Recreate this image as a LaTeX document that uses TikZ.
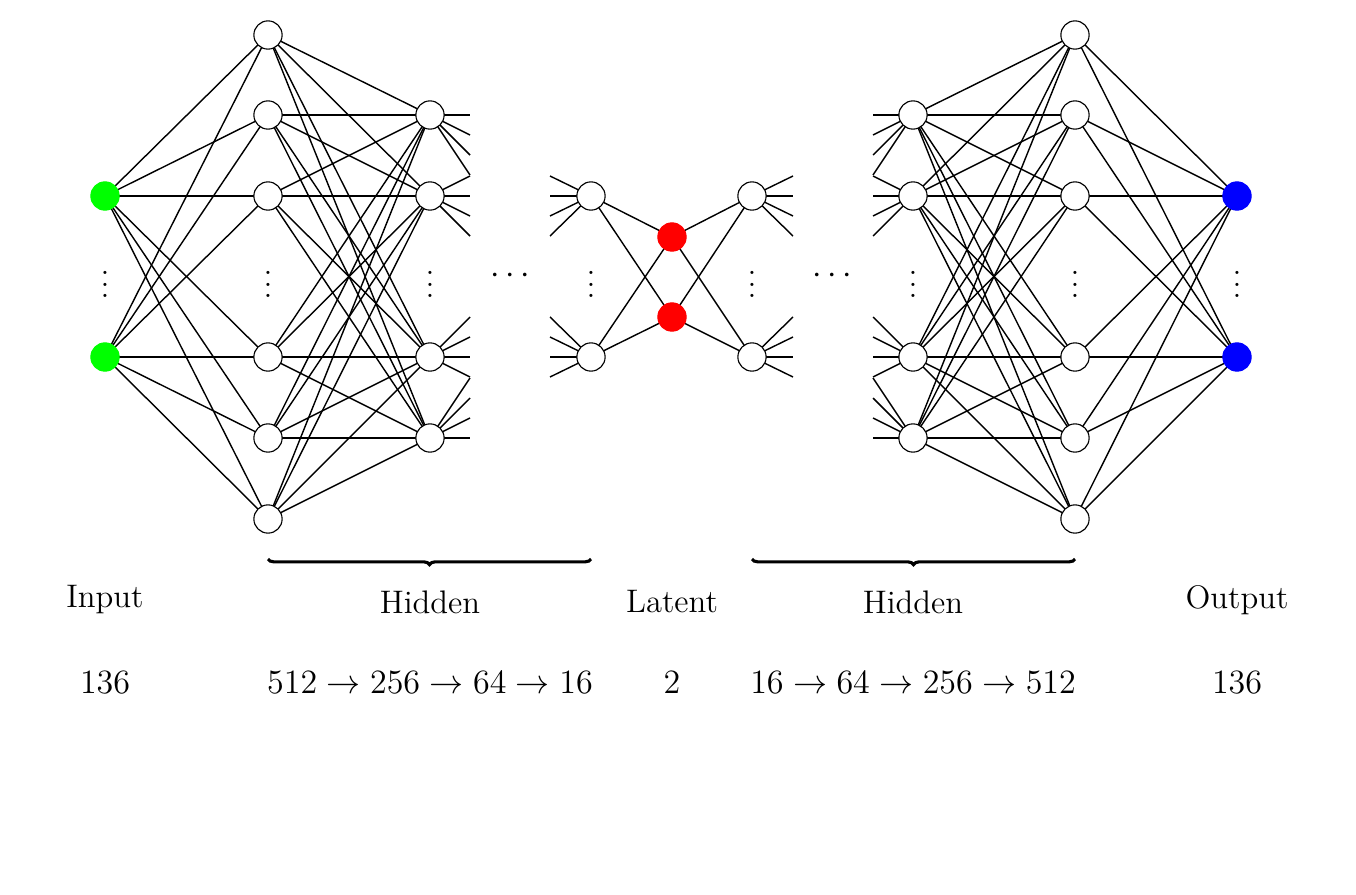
\documentclass[tikz,border=0pt]{standalone}
\usetikzlibrary{decorations.pathreplacing}
\begin{document}
\begin{tikzpicture}[x=0.012392cm,y=-0.012392cm,
  every node/.append style={font=\fontsize{11.5}{14}\selectfont},
  neuron/.style={circle,draw,fill=white,minimum size=0.35cm,inner sep=0pt},
  inp/.style={neuron,draw=green,fill=green},
  lat/.style={neuron,draw=red,fill=red},
  outp/.style={neuron,draw=blue,fill=blue},
  edge/.style={black,line width=0.5pt},
  brc/.style={decorate,decoration={brace,mirror,amplitude=2pt},line width=1.1pt}]
\useasboundingbox (0,0) rectangle (1356,895);
\def\ysix{35,115,196,357,438,519}
\def\yfour{115,196,357,438}
% edges
\foreach \a in {196,357} \foreach \b in \ysix \draw[edge] (105,\a) -- (268,\b);
\foreach \a in \ysix \foreach \b in \yfour \draw[edge] (268,\a) -- (430,\b);
\foreach \a in \yfour \foreach \b in \ysix \draw[edge] (913,\a) -- (1075,\b);
\foreach \a in \ysix \foreach \b in {196,357} \draw[edge] (1075,\a) -- (1237,\b);
\foreach \a in {196,357} \foreach \b in {237,317} {\draw[edge] (591,\a) -- (672,\b); \draw[edge] (672,\b) -- (752,\a);}
% stubs
\foreach \y/\offs in {115/{0,20,40,60},196/{-20,0,20,40},357/{-40,-20,0,20},438/{-60,-40,-20,0}}
  \foreach \o in \offs {\draw[edge] (430,\y) -- (470,\y+\o); \draw[edge] (913,\y) -- (873,\y+\o);}
\foreach \y/\offs in {196/{-20,0,20,40},357/{-40,-20,0,20}}
  \foreach \o in \offs {\draw[edge] (591,\y) -- (550,\y+\o); \draw[edge] (752,\y) -- (793,\y+\o);}
% nodes
\node[inp] (i1) at (105,196) {}; \node[inp] (i2) at (105,357) {};
\foreach \y [count=\k] in \ysix {\node[neuron] (h1\k) at (268,\y) {}; \node[neuron] (d2\k) at (1075,\y) {};}
\foreach \y [count=\k] in \yfour {\node[neuron] (h2\k) at (430,\y) {}; \node[neuron] (d1\k) at (913,\y) {};}
\foreach \y [count=\k] in {196,357} {\node[neuron] (h3\k) at (591,\y) {}; \node[neuron] (d0\k) at (752,\y) {}; }
\node[lat] (l1) at (672,237) {}; \node[lat] (l2) at (672,317) {};
\node[outp] (o1) at (1237,196) {}; \node[outp] (o2) at (1237,357) {};
% dots
\foreach \x in {105,268,430,591,752,913,1075,1237} \node (v\x) at (\x,276) {$\vdots$};
\node (c1) at (510,276) {$\cdots$};
\node (c2) at (832,276) {$\cdots$};
% braces
\draw[brc] (268,559) -- (591,559);
\draw[brc] (752,559) -- (1075,559);
% labels
\node (t1) at (105,600) {Input};
\node (t2) at (430,602) {Hidden};
\node (t3) at (672,602) {Latent};
\node (t4) at (913,602) {Hidden};
\node (t5) at (1237,600) {Output};
\node (n1) at (105,683) {$136$};
\node (n2) at (430,683) {$512\to256\to64\to16$};
\node (n3) at (672,683) {$2$};
\node (n4) at (913,683) {$16\to64\to256\to512$};
\node (n5) at (1237,683) {$136$};
\end{tikzpicture}
\end{document}
